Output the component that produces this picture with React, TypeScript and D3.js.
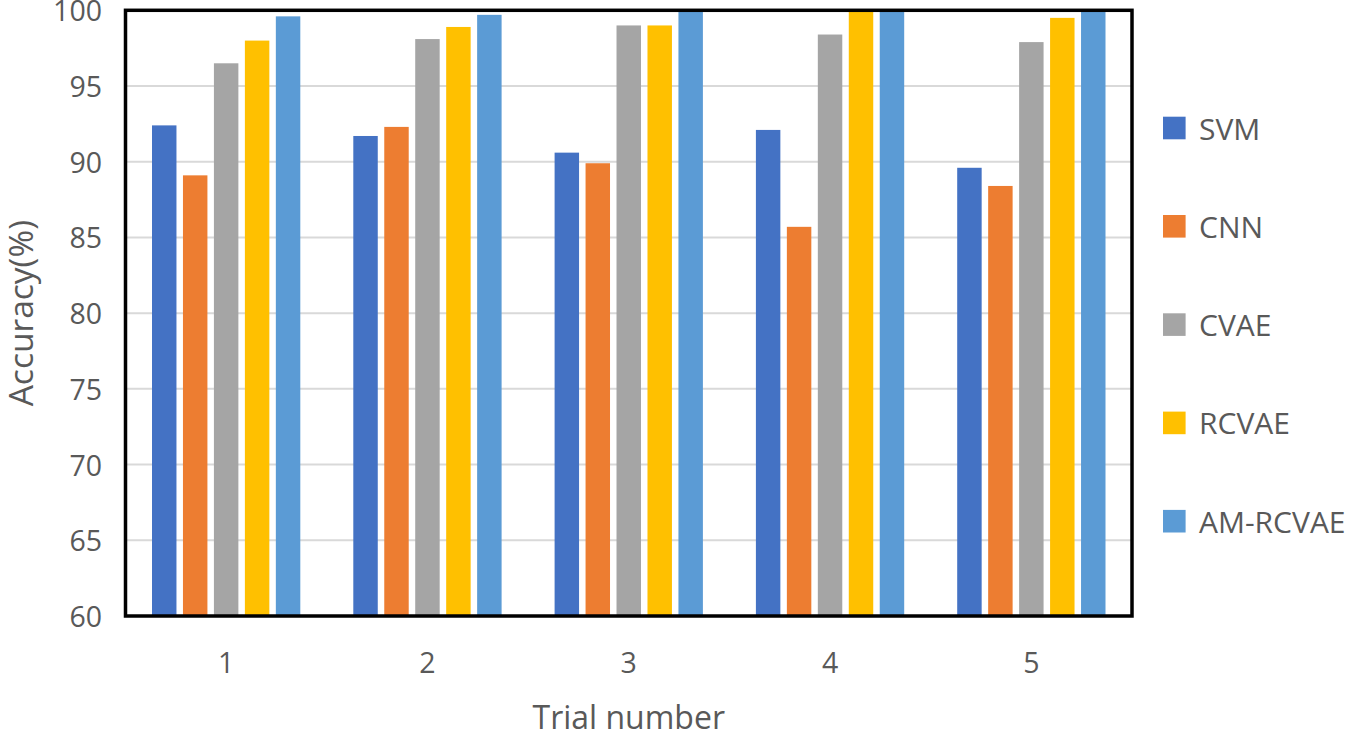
import React from "react";
import * as d3 from "d3";

const trials = ["1", "2", "3", "4", "5"];
const seriesNames = ["SVM", "CNN", "CVAE", "RCVAE", "AM-RCVAE"];
const colors = ["#4472C4", "#ED7D31", "#A5A5A5", "#FFC000", "#5B9BD5"];
const svm = [92.4, 91.7, 90.6, 92.1, 89.6];
const cnn = [89.1, 92.3, 89.9, 85.7, 88.4];
const cvae = [96.5, 98.1, 99.0, 98.4, 97.9];
const rcvae = [98.0, 98.9, 99.0, 100, 99.5];
const amrcvae = [99.6, 99.7, 100, 100, 100];
const yTicks = [60, 65, 70, 75, 80, 85, 90, 95, 100];

const seriesValues = [svm, cnn, cvae, rcvae, amrcvae];

const W = 1350;
const H = 732;
const left = 125.5;
const right = 1132;
const top = 10.3;
const bottom = 616;
const FONT = "'Open Sans', 'Noto Sans', sans-serif";
const TXT = "#595959";

export default function App() {
  const x0 = d3.scaleBand<string>().domain(trials).range([left, right]).padding(0);
  const bw = x0.bandwidth();
  const x1 = d3
    .scaleBand<string>()
    .domain(seriesNames)
    .range([bw * 0.1155, bw * 0.8845])
    .padding(0);
  const y = d3.scaleLinear().domain([60, 100]).range([bottom, top]);
  const barW = x1.bandwidth() - 6.5;

  return (
    <svg
      width={W}
      height={H}
      style={{ position: "absolute", left: 0, top: 0, background: "#fff" }}
    >
      {yTicks.map((t) => (
        <g key={t}>
          {t !== 60 && t !== 100 && (
            <line x1={left} x2={right} y1={y(t)} y2={y(t)} stroke="#d9d9d9" strokeWidth={2} />
          )}
          <text
            x={102}
            y={y(t)}
            textAnchor="end"
            dominantBaseline="central"
            fontFamily={FONT}
            fontSize={28.5}
            fill={TXT}
          >
            {t}
          </text>
        </g>
      ))}
      {trials.map((tr, i) => (
        <g key={tr} transform={`translate(${x0(tr)},0)`}>
          {seriesNames.map((s, j) => {
            const v = seriesValues[j][i];
            return (
              <rect
                key={s}
                x={(x1(s) as number) + 3.25}
                y={y(v)}
                width={barW}
                height={y(60) - y(v)}
                fill={colors[j]}
              />
            );
          })}
          <text
            x={bw / 2}
            y={662}
            textAnchor="middle"
            dominantBaseline="central"
            fontFamily={FONT}
            fontSize={28.5}
            fill={TXT}
          >
            {tr}
          </text>
        </g>
      ))}
      <rect
        x={left}
        y={top}
        width={right - left}
        height={bottom - top}
        fill="none"
        stroke="#000"
        strokeWidth={3.5}
      />
      <text
        x={(left + right) / 2}
        y={729}
        textAnchor="middle"
        fontFamily={FONT}
        fontSize={32}
        fill={TXT}
      >
        Trial number
      </text>
      <text
        transform={`translate(33,${(top + bottom) / 2}) rotate(-90)`}
        textAnchor="middle"
        fontFamily={FONT}
        fontSize={33.5}
        fill={TXT}
      >
        Accuracy(%)
      </text>
      {seriesNames.map((s, j) => {
        const cy = 128 + j * 98.3;
        return (
          <g key={s}>
            <rect x={1163} y={cy - 11.3} width={22.6} height={22.6} fill={colors[j]} />
            <text
              x={1199}
              y={cy}
              dominantBaseline="central"
              fontFamily={FONT}
              fontSize={30}
              fill={TXT}
            >
              {s}
            </text>
          </g>
        );
      })}
    </svg>
  );
}
